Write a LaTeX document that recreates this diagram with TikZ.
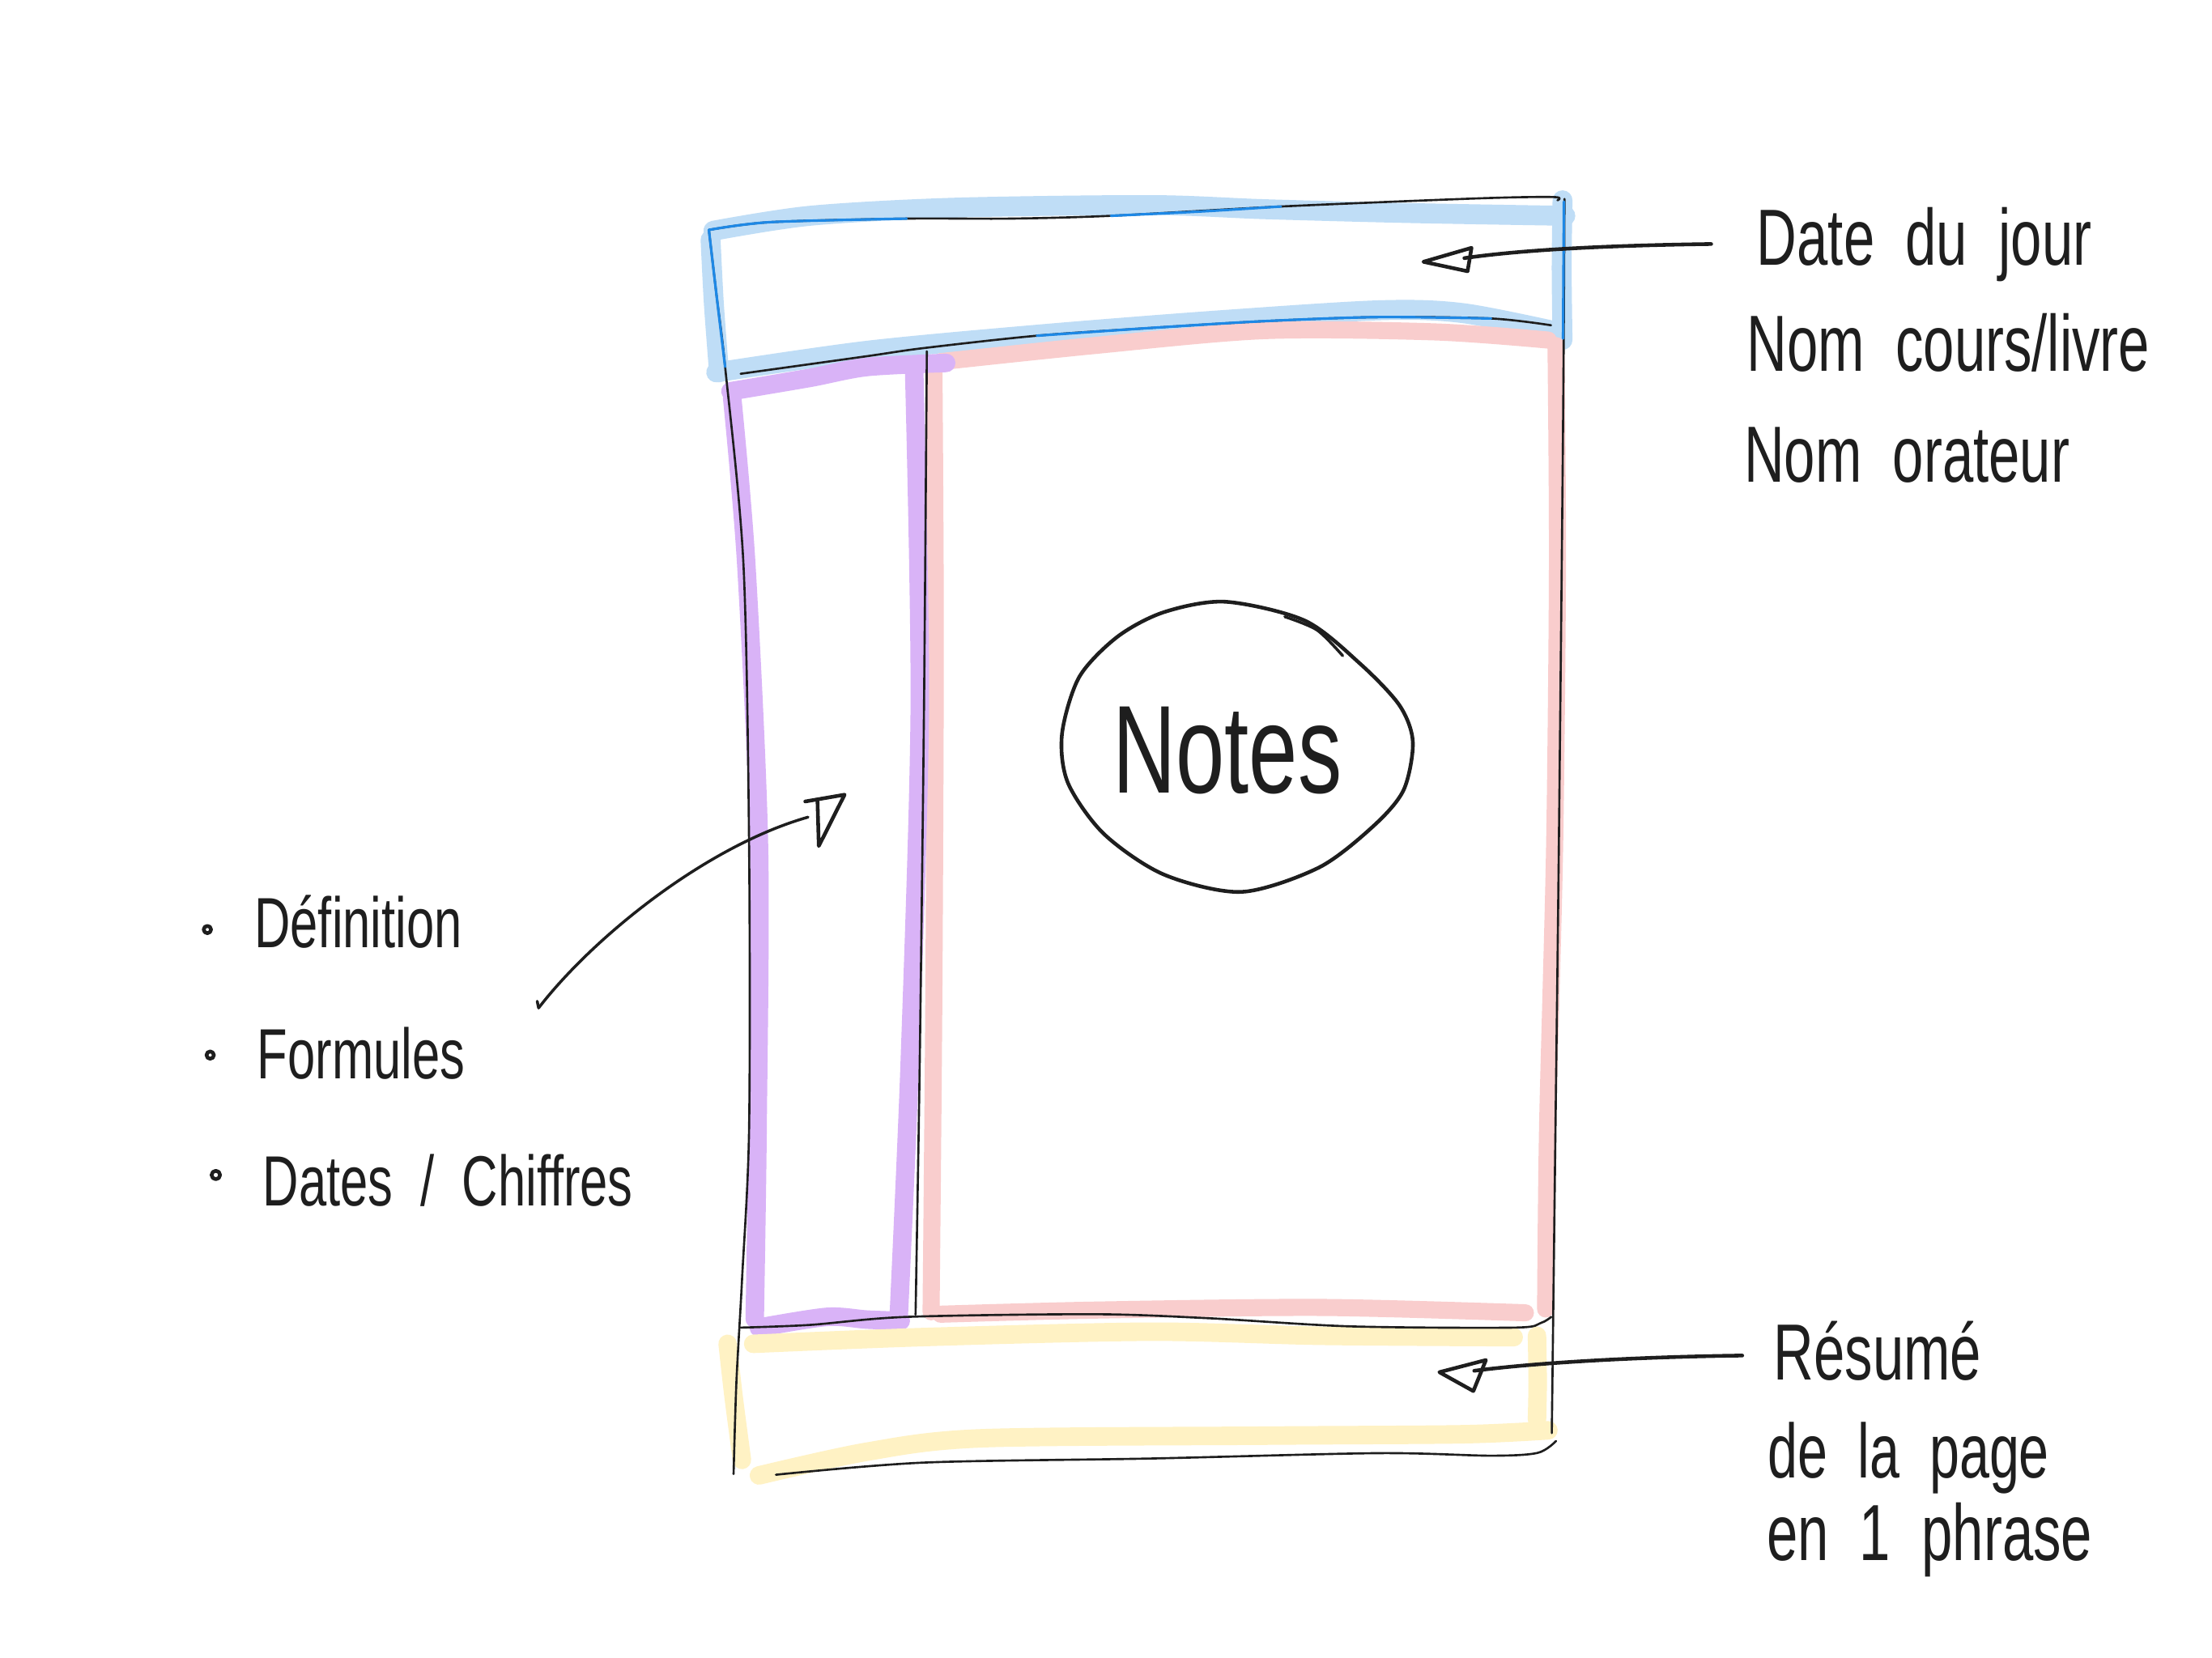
\documentclass[tikz,border=0pt]{standalone}
\usepackage{fontspec}
\setmainfont{Liberation Sans}[FakeStretch=0.7,WordSpace=2]
\definecolor{ink}{HTML}{1E1E1E}
\definecolor{hlblue}{HTML}{BFDDF6}
\definecolor{lineblue}{HTML}{1E88E5}
\definecolor{hlpink}{HTML}{F9CDCD}
\definecolor{hlpurple}{HTML}{D9B3F7}
\definecolor{hlyellow}{HTML}{FFF2C4}
\begin{document}
\begin{tikzpicture}[x=0.017423cm,y=-0.017423cm,
  pen/.style={draw=ink,line width=0.75pt,line cap=round,line join=round},
  boldpen/.style={draw=ink,line width=1.3pt,line cap=round,line join=round},
  hl/.style={line width=7pt,line cap=round,line join=round},
  thinblue/.style={draw=lineblue,line width=0.9pt,line cap=round,line join=round},
  hand/.style={inner sep=0pt,text=ink,anchor=base west},
  bigsize/.style={font=\fontsize{28}{30}\selectfont},
  midsize/.style={font=\fontsize{25}{27}\selectfont}]
\useasboundingbox (0,0) rectangle (1568,1175);
\fill[white] (0,0) rectangle (1568,1175);

% ---------- highlights ----------
% blue (header)
\draw[hl,hlblue] plot[smooth] coordinates {(505.7,163.6) (574,153) (675,147.3) (816,145.4) (896,148.3) (997,151) (1109.6,153)};
\draw[hl,hlblue] plot[smooth] coordinates {(1107.6,142) (1107,190) (1107.6,241)};
\draw[hl,hlblue] plot[smooth] coordinates {(507.7,264) (614.4,248.7) (735,237.3) (856,227.7) (976.7,220) (1037,222) (1107.6,236)};
\draw[hl,hlblue] plot[smooth] coordinates {(503.7,170) (506,215) (509.7,264)};
% pink (notes)
\draw[hl,hlpink,line width=6pt] plot[smooth] coordinates {(666.7,256.4) (775.4,245) (896,234.4) (1017,235.3) (1097.5,241.1)};
\draw[hl,hlpink,line width=6pt] plot[smooth] coordinates {(1103,245) (1104,400) (1102,600) (1097,800) (1095.6,928)};
\draw[hl,hlpink,line width=6pt] plot[smooth] coordinates {(666.7,931.7) (775.5,928.8) (936.4,926.9) (1081.3,930.7)};
\draw[hl,hlpink,line width=6pt] plot[smooth] coordinates {(662,258) (663,450) (662,700) (660,930)};
% purple (left column)
\draw[hl,hlpurple,line width=6.5pt] plot[smooth] coordinates {(517.8,277.4) (574,267.9) (614.4,260.2) (670.7,257.3)};
\draw[hl,hlpurple,line width=6.5pt] plot[smooth] coordinates {(648,262) (652,500) (645,750) (637,935)};
\draw[hl,hlpurple,line width=6.5pt] plot[smooth] coordinates {(519,282) (529,400) (538,600) (537,800) (535,935)};
\draw[hl,hlpurple,line width=6.5pt] plot[smooth] coordinates {(537.9,941.2) (586,933.6) (614.4,935.5) (638.5,936.4)};
% yellow (summary)
\draw[hl,hlyellow,line width=6.5pt] plot[smooth] coordinates {(533.9,952.7) (654.7,947.9) (815.7,944.1) (936.4,947) (1073,948)};
\draw[hl,hlyellow,line width=6.5pt] plot[smooth] coordinates {(1089.5,947) (1090,980) (1089.5,1006.3)};
\draw[hl,hlyellow,line width=6.5pt] plot[smooth] coordinates {(1097.6,1014) (1037,1016.8) (896,1017.8) (695,1019.7) (614.4,1029.2) (538,1046)};
\draw[hl,hlyellow,line width=6.5pt] plot[smooth] coordinates {(515.8,952.7) (520,990) (525.9,1035)};

% ---------- page frame ----------
\draw[pen] plot[smooth] coordinates {(502.5,163) (508,210) (514,260) (527,400) (531,600) (531,800) (526,907) (522,980) (520,1045)};
\draw[pen] plot[smooth] coordinates {(502.5,163) (546,157.5) (642.6,155) (715,155) (787.5,153) (908,146.4) (1049,140.6) (1101.5,139.7) (1104,142)};
\draw[pen] plot[smooth] coordinates {(1109,141) (1108,300) (1105,600) (1102,850) (1100,1016)};
\draw[pen] plot[smooth] coordinates {(525,265) (614,252.6) (654.6,246.8) (735,238) (815.7,232.5) (896,227.7) (976.7,224.8) (1057,225.8) (1099.5,230.6)};
\draw[pen] plot[smooth] coordinates {(657,249) (655,500) (652,750) (649,932)};
\draw[pen] plot[smooth] coordinates {(525,941.2) (574,939.3) (642.6,933.6) (775.5,931.7) (856,934.5) (956.7,940.3) (1073,941.2) (1092,938) (1099.6,933.6)};
\draw[pen] plot[smooth] coordinates {(550,1045.5) (654.7,1036.9) (815.7,1034) (976.8,1030.2) (1057,1032) (1090,1030) (1103,1021.6)};
% blue-tinted parts of the header strokes
\draw[thinblue] plot[smooth] coordinates {(502.5,163) (508,210) (514,260)};
\draw[thinblue] plot[smooth] coordinates {(502.5,163) (546,157.5) (642.6,155)};
\draw[thinblue] plot[smooth] coordinates {(787.5,153) (850,150) (908,146.4)};
\draw[thinblue] plot[smooth] coordinates {(1108.6,143) (1108.3,190) (1108,240)};
\draw[thinblue] plot[smooth] coordinates {(735,238) (815.7,232.5) (896,227.7) (976.7,224.8) (1057,225.8)};

% ---------- Notes bubble ----------
\draw[boldpen] plot[smooth cycle] coordinates {(868.6,426.6) (925,440) (964.2,470.6) (992,500) (1001.5,526) (995,560) (973.8,585.4) (935,615) (880,632.3) (825,620) (782.5,591.2) (757,555) (752.8,520.4) (765,480) (792,451.5) (825,434)};
\draw[pen,line width=1pt] plot[smooth] coordinates {(910.7,437.2) (933.6,446.7) (951.8,464.9)};
\node[hand,anchor=base,font=\fontsize{44}{46}\selectfont] (notes) at (870,562) {Notes};

% ---------- labels ----------
\node[hand,bigsize] (date) at (1245,188) {Date du jour};
\node[hand,bigsize] (cours) at (1238,263) {Nom cours/livre};
\node[hand,bigsize] (orateur) at (1236,342) {Nom orateur};

\node[hand,midsize] (def) at (180,672) {Définition};
\node[hand,midsize] (form) at (182,765) {Formules};
\node[hand,midsize] (dates) at (186,855) {Dates / Chiffres};
\draw[boldpen] (147,659) circle (2.6);
\draw[boldpen] (149,748) circle (2.6);
\draw[boldpen] (153,833) circle (3);

\node[hand,font=\fontsize{28}{30}\selectfont] (resume) at (1257,978) {Résumé};
\node[hand,font=\fontsize{27}{29}\selectfont] (page) at (1253,1048) {de la page};
\node[hand,font=\fontsize{28}{30}\selectfont] (phrase) at (1252,1106) {en 1 phrase};

% ---------- arrows ----------
\coordinate (a1s) at (1213,173);
\coordinate (a1e) at (1038,183);
\draw[boldpen] (a1s) .. controls (1140,174) and (1080,177) .. (a1e);
\draw[boldpen] (1009,185.6) -- (1043.1,175.7) -- (1040.3,192.3) -- cycle;

\coordinate (a2s) at (1235,961);
\coordinate (a2e) at (1045,971.8);
\draw[boldpen] (a2s) .. controls (1160,962) and (1090,966) .. (a2e);
\draw[boldpen] (1020.3,972.8) -- (1053.3,964.2) -- (1044.4,986.2) -- cycle;

\coordinate (a3s) at (381.8,714.6);
\coordinate (a3e) at (572.8,579.3);
\draw[boldpen,line width=1pt] (380.8,709.8) -- (a3s);
\draw[boldpen,line width=1pt] (a3s) .. controls (420,665) and (500,600) .. (a3e);
\draw[boldpen] (570.8,568.2) -- (598.7,563.4) -- (580.4,599.8) -- (579.5,568.2);
\end{tikzpicture}
\end{document}
